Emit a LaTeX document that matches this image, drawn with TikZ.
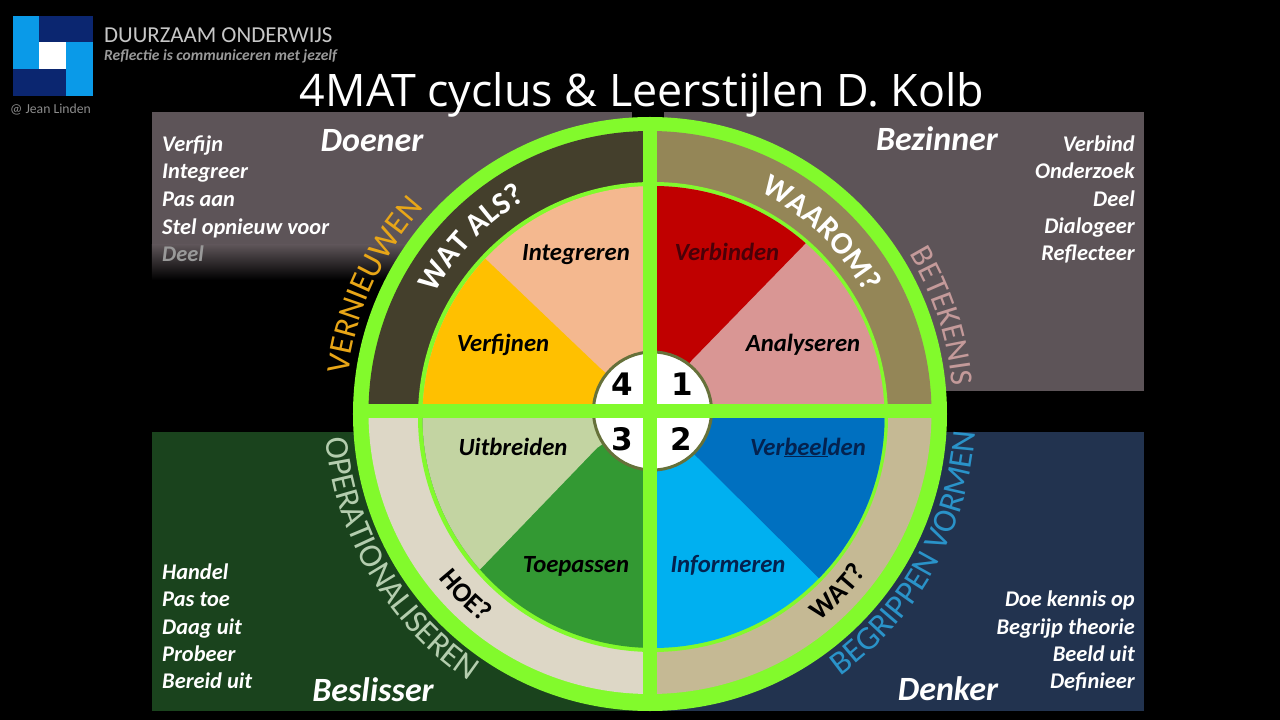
\documentclass[tikz,border=0pt]{standalone}
\usepackage{fontspec}
\setmainfont{Carlito}
\newfontfamily\titlefont{Open Sans}
\newfontfamily\numfont{DejaVu Sans}
\usetikzlibrary{decorations.text}
\definecolor{ringgreen}{HTML}{82FA2C}
\definecolor{panelgray}{HTML}{5D5458}
\definecolor{panelgreen}{HTML}{1A431D}
\definecolor{panelnavy}{HTML}{22334F}
\definecolor{bandA}{HTML}{443F2C}
\definecolor{bandB}{HTML}{948657}
\definecolor{bandC}{HTML}{C5B994}
\definecolor{bandD}{HTML}{DDD7C6}
\definecolor{logolight}{HTML}{0A9AE8}
\definecolor{logonavy}{HTML}{0B2670}
\definecolor{hubedge}{HTML}{66713A}
\definecolor{orangelab}{HTML}{E8A617}
\definecolor{pinklab}{HTML}{C49A9A}
\definecolor{greenlab}{HTML}{B4CDAE}
\definecolor{bluelab}{HTML}{2A93C9}
\definecolor{secpeach}{HTML}{F4B88F}
\definecolor{secamber}{HTML}{FFC000}
\definecolor{secred}{HTML}{C00000}
\definecolor{secrose}{HTML}{D99694}
\definecolor{secblue}{HTML}{0070C0}
\definecolor{secsky}{HTML}{00B0F0}
\definecolor{secsage}{HTML}{C3D4A2}
\definecolor{secgreen}{HTML}{339933}
\definecolor{darkred}{HTML}{4A0008}
\definecolor{darknavy}{HTML}{04224F}
\newcommand\bandfont[1]{\fontsize{31.5}{32}\selectfont\bfseries\color{#1}}
\newcommand\smallband[1]{\fontsize{27.5}{28}\selectfont\bfseries\color{#1}}
\newcommand\outfont[2]{\fontsize{#2}{#2}\selectfont\color{#1}}
\newcommand\sectorfill[4]{\fill[#1] (0,0) -- (#2:#4) arc[start angle=#2,end angle=#3,radius=#4 pt] -- cycle;}
\tikzset{
  x=1pt,y=1pt,
  listleft/.style={text=white,font=\fontsize{22.4}{22}\selectfont\bfseries\itshape,anchor=base west,inner sep=0pt},
  listright/.style={text=white,font=\fontsize{22.4}{22}\selectfont\bfseries\itshape,anchor=base east,inner sep=0pt},
  headlab/.style={text=white,font=\fontsize{34}{34}\selectfont\bfseries\itshape,inner sep=0pt,anchor=base},
  seclab/.style={font=\fontsize{24.7}{24}\selectfont\bfseries\itshape,inner sep=0pt,anchor=base},
  numlab/.style={font=\fontsize{31}{31}\selectfont\numfont\bfseries,inner sep=0pt,text=black},
}
\begin{document}
\begin{tikzpicture}
\useasboundingbox (-650,-309) rectangle (630,411);
\fill[black] (-650,-309) rectangle (630,411);
% panels
\fill[panelgray] (-498,299) rectangle (494,166);
\fill[panelgray] (0,166) rectangle (494,20);
\shade[top color=panelgray,bottom color=black] (-498,166) rectangle (0,131);
\fill[panelgreen] (-498,-21) rectangle (0,-300);
\fill[panelnavy] (0,-21) rectangle (494,-300);
\fill[black] (-18,300) rectangle (14,293);
% logo
\fill[logolight] (-637,395) rectangle (-610.5,342);
\fill[logonavy] (-610.5,395) rectangle (-557,368.5);
\fill[white] (-610.5,368.5) rectangle (-584,342);
\fill[logolight] (-584,368.5) rectangle (-557,315);
\fill[logonavy] (-637,342) rectangle (-584,315);
\node[anchor=west,inner sep=0pt,text=black!22!white,font=\fontsize{22.8}{22}\selectfont] (brand) at (-546,376) {DUURZAAM ONDERWIJS};
\node[anchor=west,inner sep=0pt,text=black!40!white,font=\fontsize{15.5}{15}\selectfont\bfseries\itshape] (motto) at (-546,355) {Reflectie is communiceren met jezelf};
\node[anchor=west,inner sep=0pt,text=black!45!white,font=\fontsize{13.7}{13}\selectfont] (author) at (-640,301) {@ Jean Linden};
\node[text=white,inner sep=0pt,font=\fontsize{44.8}{44}\selectfont\titlefont] (title) at (-8,316.5) {4MAT cyclus \& Leerstijlen D. Kolb};
% wheel
\fill[ringgreen] (0,-3) circle[radius=297pt];
\begin{scope}[shift={(0,-1.5)}]
\sectorfill{bandA}{180}{90}{281.5}
\sectorfill{bandB}{90}{0}{281.5}
\sectorfill{bandC}{0}{-90}{281.5}
\sectorfill{bandD}{270}{180}{281.5}
\end{scope}
\fill[ringgreen] (3,-6) circle[radius=235pt];
\begin{scope}
\clip (3.5,-6) circle[radius=231pt];
\fill[secpeach] (-300,0) rectangle (0,300);
\fill[secamber] (0,0) -- (-50,43) -- (-200,186) -- (-300,186) -- (-300,0) -- cycle;
\fill[secrose] (0,0) rectangle (300,300);
\fill[secred] (0,0) -- (42,51) -- (190,203) -- (190,300) -- (0,300) -- cycle;
\fill[secsky] (0,0) rectangle (300,-300);
\fill[secblue] (0,0) -- (48,-47) -- (210,-208) -- (300,-208) -- (300,0) -- cycle;
\fill[secgreen] (-300,0) rectangle (0,-300);
\fill[secsage] (0,0) -- (-53,-37) -- (-210,-200) -- (-300,-200) -- (-300,0) -- cycle;
\end{scope}
\fill[white,draw=hubedge,line width=3pt] (2.5,0) circle[radius=59pt];
\fill[ringgreen] (-297,-7) rectangle (297,7);
\fill[ringgreen] (-7,-300) rectangle (7,293);
% band labels
\path[decorate,decoration={text along path,text align=center,text={|\bandfont{white}|WAT ALS?}}] (186:245) arc[start angle=186,end angle=86,radius=245pt];
\path[decorate,decoration={text along path,text align=center,text={|\bandfont{white}|WAAROM?}}] (96:245) arc[start angle=96,end angle=-4,radius=245pt];
\path[decorate,decoration={text along path,text align=center,text={|\smallband{black}|HOE?}}] (185:270) arc[start angle=185,end angle=265,radius=270pt];
\path[decorate,decoration={text along path,text align=center,text={|\smallband{black}|WAT?}}] (-84:270) arc[start angle=-84,end angle=-4,radius=270pt];
% outer labels
\path[decorate,decoration={text along path,text align=center,text={|\outfont{orangelab}{33}|VERNIEUWEN}}] (195.5:304) arc[start angle=195.5,end angle=115.5,radius=304pt];
\path[decorate,decoration={text along path,text align=center,text={|\outfont{pinklab}{32}|BETEKENIS}}] (58:303) arc[start angle=58,end angle=-22,radius=303pt];
\path[decorate,decoration={text along path,text align=center,text={|\outfont{greenlab}{33.5}|OPERATIONALISEREN}}] (160:325) arc[start angle=160,end angle=261,radius=325pt];
\path[decorate,decoration={text along path,text align=center,text={|\outfont{bluelab}{33.5}|BEGRIPPEN VORMEN}}] (-79:326) arc[start angle=-79,end angle=21,radius=326pt];
% sector labels
\node[seclab,text=black] (integreren) at (-74,150) {Integreren};
\node[seclab,text=black] (verfijnen) at (-147,59) {Verfijnen};
\node[seclab,text=darkred] (verbinden) at (77,150) {Verbinden};
\node[seclab,text=black] (analyseren) at (153,59) {Analyseren};
\node[seclab,text=black] (uitbreiden) at (-137,-44) {Uitbreiden};
\node[seclab,text=black] (toepassen) at (-74,-161) {Toepassen};
\node[seclab,text=darknavy] (verbeelden) at (158,-44) {Ver\underline{beel}den};
\node[seclab,text=darknavy] (informeren) at (78,-161) {Informeren};
% hub numbers
\node[numlab] (n4) at (-28,27) {4};
\node[numlab] (n1) at (32,27) {1};
\node[numlab] (n3) at (-28,-28) {3};
\node[numlab] (n2) at (31,-28) {2};
% headers
\node[headlab] (doener) at (-278,259) {Doener};
\node[headlab] (bezinner) at (287,260) {Bezinner};
\node[headlab] (beslisser) at (-277,-290) {Beslisser};
\node[headlab] (denker) at (298,-289) {Denker};
% lists
\node[listleft] (a1) at (-488,259) {Verfijn};
\node[listleft] (a2) at (-488,232) {Integreer};
\node[listleft] (a3) at (-488,204) {Pas aan};
\node[listleft] (a4) at (-488,176) {Stel opnieuw voor};
\node[listleft,text=black!40!white] (a5) at (-488,149) {Deel};
\node[listright] (b1) at (485,259) {Verbind};
\node[listright] (b2) at (485,232) {Onderzoek};
\node[listright] (b3) at (485,204) {Deel};
\node[listright] (b4) at (485,177) {Dialogeer};
\node[listright] (b5) at (485,150) {Reflecteer};
\node[listleft] (c1) at (-488,-168) {Handel};
\node[listleft] (c2) at (-488,-195) {Pas toe};
\node[listleft] (c3) at (-488,-223) {Daag uit};
\node[listleft] (c4) at (-488,-250) {Probeer};
\node[listleft] (c5) at (-488,-277) {Bereid uit};
\node[listright] (d1) at (485,-195) {Doe kennis op};
\node[listright] (d2) at (485,-223) {Begrijp theorie};
\node[listright] (d3) at (485,-250) {Beeld uit};
\node[listright] (d4) at (485,-277) {Definieer};
\end{tikzpicture}
\end{document}
